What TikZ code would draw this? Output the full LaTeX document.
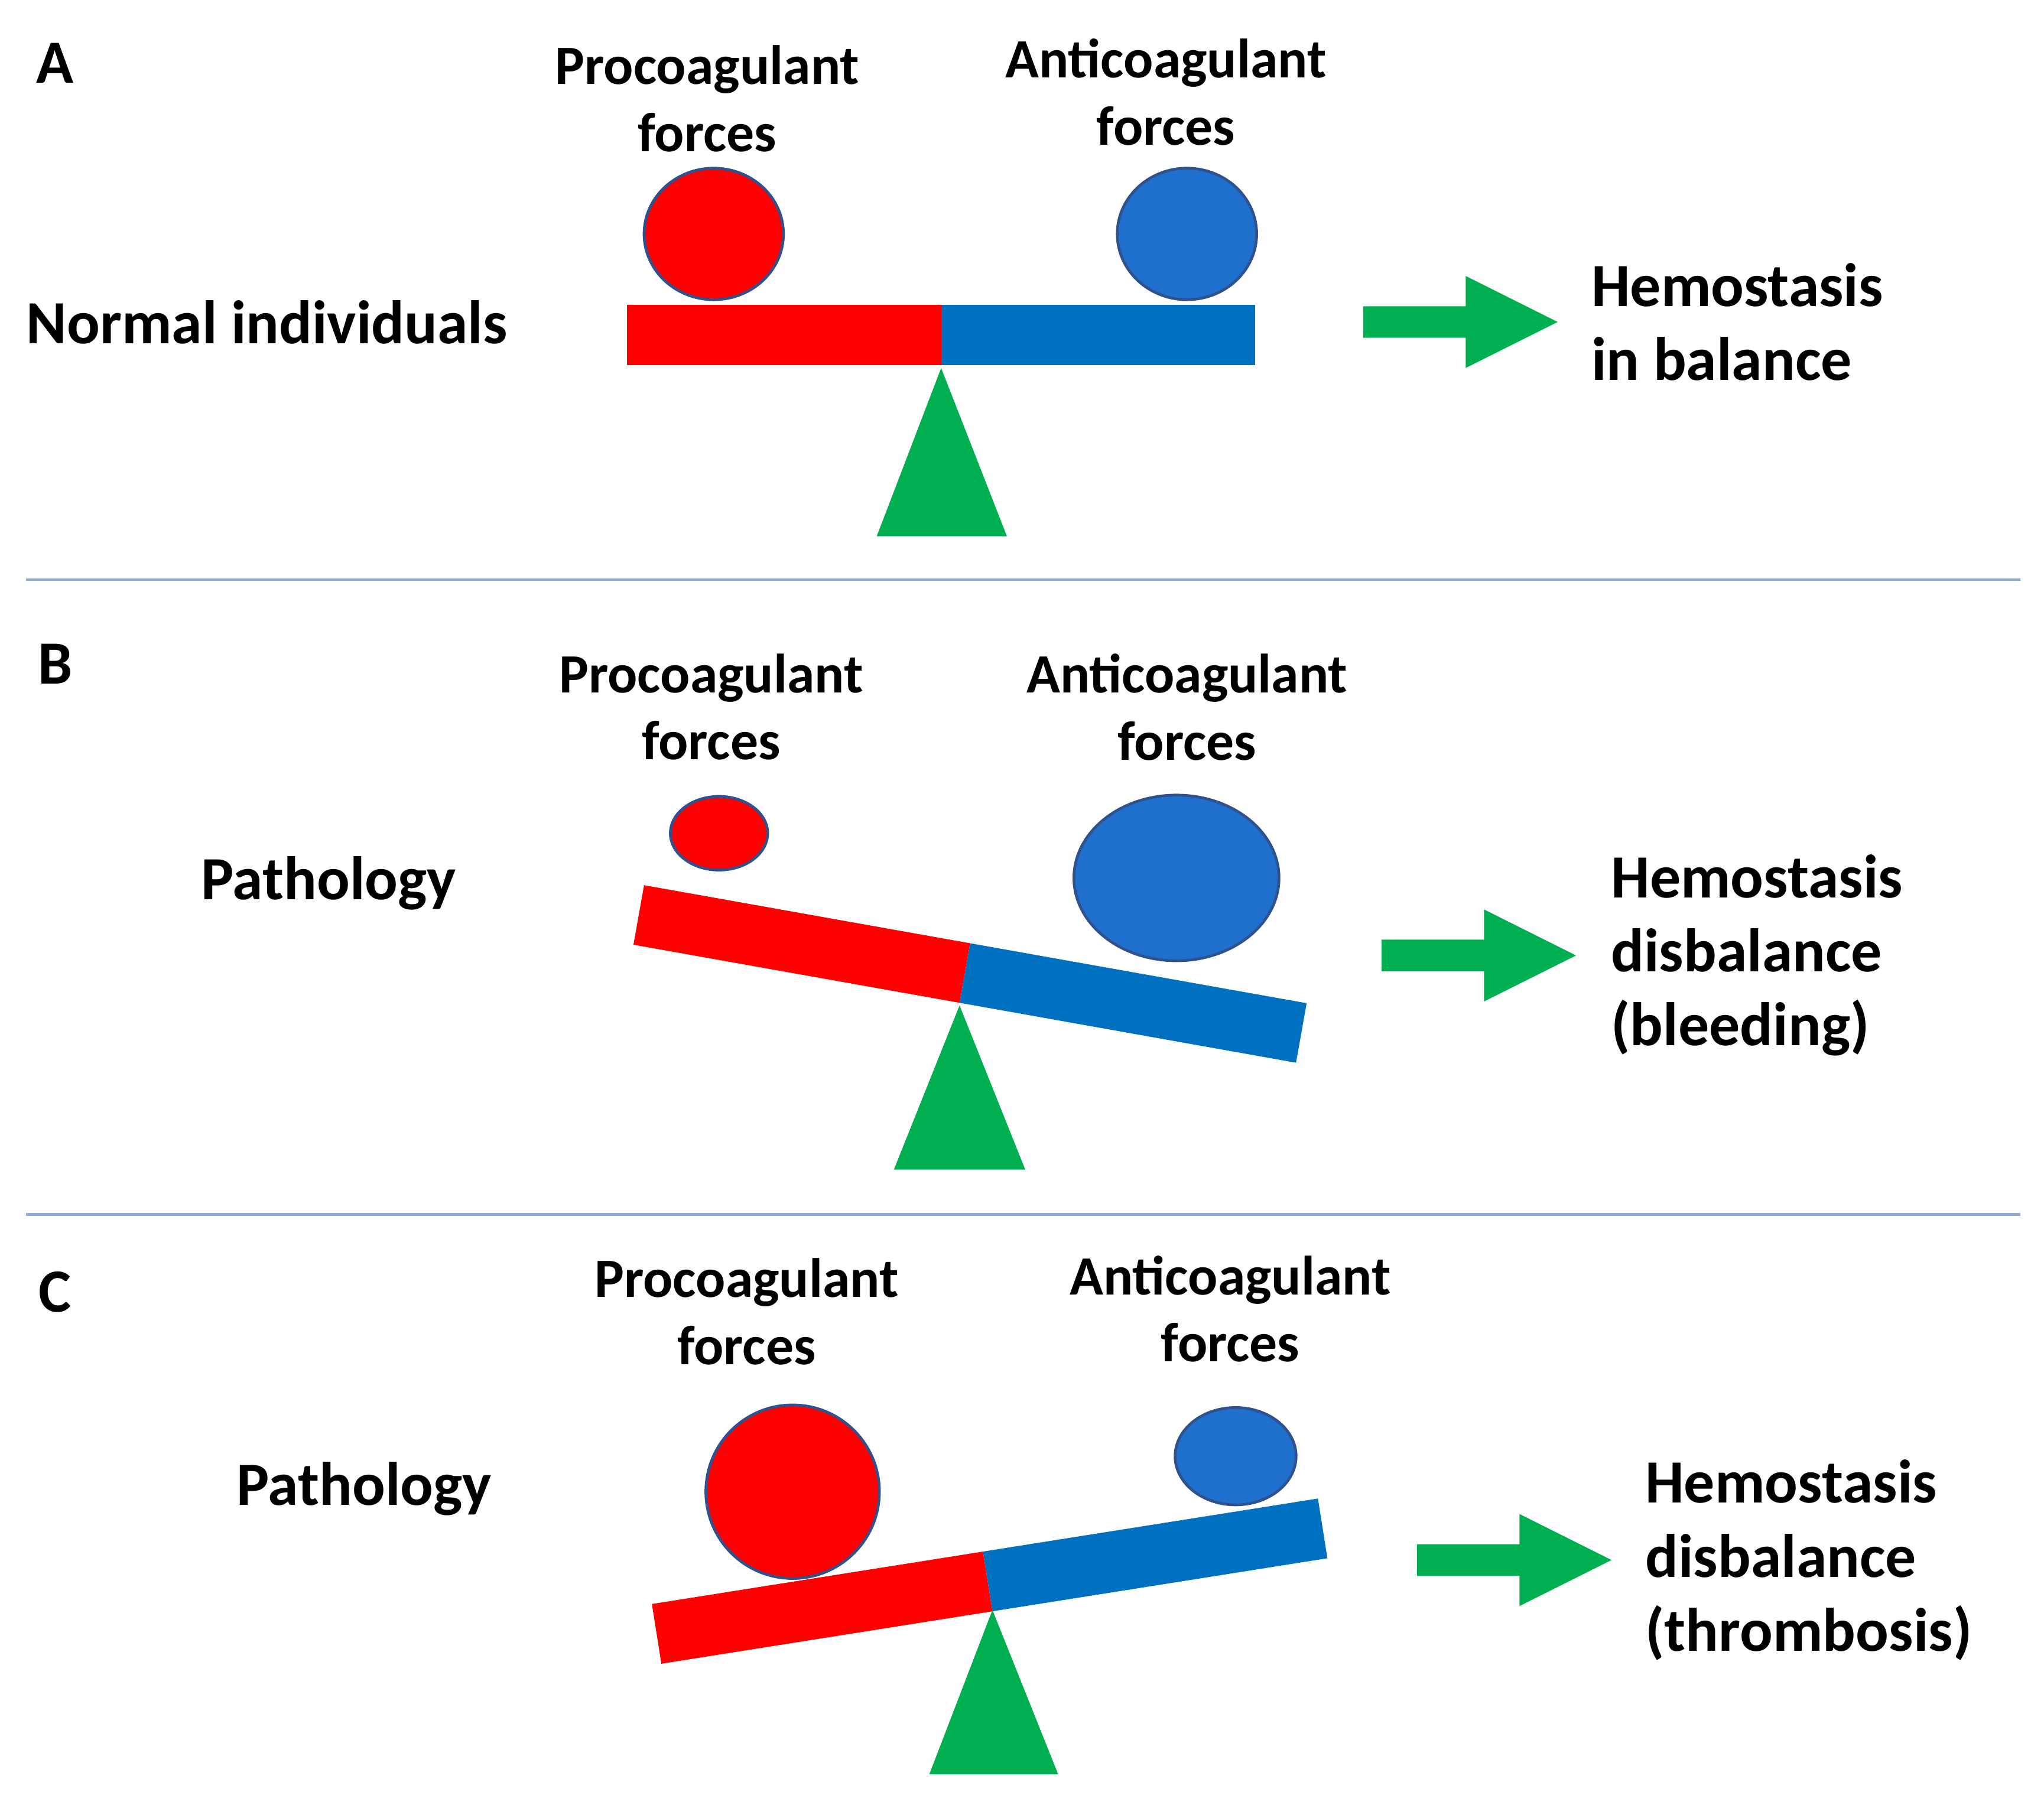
\documentclass[tikz,border=0pt]{standalone}
\usepackage{fontspec}
\setmainfont{Carlito}
\usetikzlibrary{positioning}
\definecolor{proRed}{HTML}{FF0000}
\definecolor{antiBlue}{HTML}{1F6FCC}
\definecolor{barBlue}{HTML}{0070C0}
\definecolor{rimBlue}{HTML}{2F528F}
\definecolor{fulGreen}{HTML}{00B050}
\definecolor{sepBlue}{HTML}{8FAADC}
\tikzset{
  lbl/.style={font=\bfseries\fontsize{12}{14.5}\selectfont, align=center, inner sep=0pt},
  side/.style={font=\bfseries\fontsize{13.3}{16}\selectfont, inner sep=0pt},
  res/.style={font=\bfseries\fontsize{13.3}{16}\selectfont, align=left, anchor=west, inner sep=0pt},
  tag/.style={font=\bfseries\fontsize{13.3}{16}\selectfont, inner sep=0pt},
  ball/.style={draw=rimBlue, line width=0.6pt},
  fulcrum/.style={fill=fulGreen},
  sep/.style={draw=sepBlue, line width=0.6pt},
}
\newcommand{\fatarrow}[2]{% #1 = left x, #2 = y
  \fill[fulGreen] (#1,#2-0.12) -- ++(0.78,0) -- ++(0,-0.23) -- ++(0.70,0.35)
    -- ++(-0.70,0.35) -- ++(0,-0.23) -- ++(-0.78,0) -- cycle;}
\begin{document}
\begin{tikzpicture}
\useasboundingbox (0,0) rectangle (15.55,13.73);

% panel A
\node[tag] (tagA) at (0.42,13.25) {A};
\node[lbl] (proA) at (5.38,12.98) {Procoagulant\\forces};
\node[lbl] (antiA) at (8.87,13.03) {Anticoagulant\\forces};
\node[side] (sideA) at (2.03,11.28) {Normal individuals};
\fill[ball, fill=proRed] (5.43,11.95) ellipse [x radius=0.53, y radius=0.50];
\fill[ball, fill=antiBlue] (9.03,11.95) ellipse [x radius=0.53, y radius=0.50];
\fill[proRed] (4.77,10.95) rectangle (7.16,11.41);
\fill[barBlue] (7.16,10.95) rectangle (9.55,11.41);
\fill[fulcrum] (7.16,10.93) -- (7.66,9.65) -- (6.67,9.65) -- cycle;
\fatarrow{10.37}{11.28}
\node[res] (resA) at (12.10,11.28) {Hemostasis\\in balance};
\coordinate (sepA1) at (0.20,9.32);
\coordinate (sepA2) at (15.37,9.32);
\draw[sep] (sepA1) -- (sepA2);

% panel B
\node[tag] (tagB) at (0.42,8.68) {B};
\node[lbl] (proB) at (5.41,8.35) {Procoagulant\\forces};
\node[lbl] (antiB) at (9.03,8.35) {Anticoagulant\\forces};
\node[side] (sideB) at (2.50,7.01) {Pathology};
\fill[ball, fill=proRed] (5.47,7.39) ellipse [x radius=0.37, y radius=0.28];
\fill[ball, fill=antiBlue] (8.95,7.05) ellipse [x radius=0.78, y radius=0.63];
\begin{scope}[shift={(7.30,6.10)}, rotate=-10.1]
  \fill[proRed] (-2.52,0) rectangle (0,0.46);
  \fill[barBlue] (0,0) rectangle (2.60,0.46);
\end{scope}
\fill[fulcrum] (7.30,6.08) -- (7.80,4.83) -- (6.80,4.83) -- cycle;
\fatarrow{10.51}{6.46}
\node[res] (resB) at (12.25,6.46) {Hemostasis\\disbalance\\(bleeding)};
\coordinate (sepB1) at (0.20,4.49);
\coordinate (sepB2) at (15.37,4.49);
\draw[sep] (sepB1) -- (sepB2);

% panel C
\node[tag] (tagC) at (0.42,3.90) {C};
\node[lbl] (proC) at (5.68,3.75) {Procoagulant\\forces};
\node[lbl] (antiC) at (9.36,3.77) {Anticoagulant\\forces};
\node[side] (sideC) at (2.77,2.40) {Pathology};
\fill[ball, fill=proRed] (6.03,2.38) circle [radius=0.66];
\fill[ball, fill=antiBlue] (9.40,2.65) ellipse [x radius=0.46, y radius=0.37];
\begin{scope}[shift={(7.55,1.47)}, rotate=9.0]
  \fill[proRed] (-2.55,0) rectangle (0,0.46);
  \fill[barBlue] (0,0) rectangle (2.58,0.46);
\end{scope}
\fill[fulcrum] (7.55,1.48) -- (8.05,0.23) -- (7.07,0.23) -- cycle;
\fatarrow{10.78}{1.86}
\node[res] (resC) at (12.51,1.86) {Hemostasis\\disbalance\\(thrombosis)};
\end{tikzpicture}
\end{document}
